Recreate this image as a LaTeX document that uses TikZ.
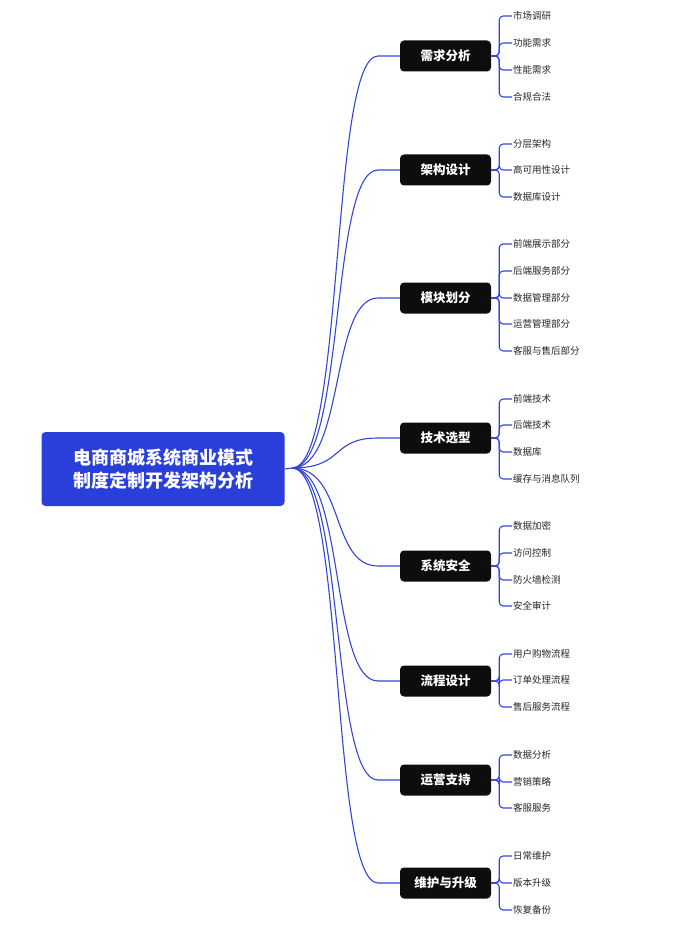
\documentclass[tikz,border=0pt]{standalone}
\usepackage{fontspec}
\setmainfont{Noto Sans CJK SC}
\begin{document}
\begin{tikzpicture}[x=1pt,y=-1pt,
  root/.style={fill=rootblue,rounded corners=4pt,text=white,font=\fontsize{18}{23}\selectfont\bfseries,align=center,minimum width=243pt,minimum height=74pt,inner sep=0pt},
  branch/.style={fill=black!95,rounded corners=4pt,text=white,font=\fontsize{12.5}{14}\selectfont\bfseries,minimum width=91pt,minimum height=31pt,inner sep=0pt},
  leaf/.style={anchor=west,font=\fontsize{9.5}{11}\selectfont,inner sep=1pt,text=black!85},
  conn/.style={draw=linkblue,line width=1.1pt},
  brk/.style={draw=linkblue,line width=1.1pt,rounded corners=4pt}]
\definecolor{rootblue}{HTML}{2A3FD9}
\definecolor{linkblue}{HTML}{3346D8}
\useasboundingbox (0,0) rectangle (687,925);
\node[root] (r) at (163,469) {电商商城系统商业模式\\制度定制开发架构分析};
\coordinate (rs) at (292,468);
\draw[conn] (r.east) -- (rs);
\foreach \name/\txt/\y in {a/需求分析/56,b/架构设计/170,c/模块划分/298,d/技术选型/438,e/系统安全/566,f/流程设计/681,g/运营支持/780,h/维护与升级/883}{
  \node[branch] (\name) at (445.5,\y) {\txt};
  \draw[conn] (rs) .. controls (345,468) and (330,\y) .. (378,\y) -- (\name.west);
}
\newcommand{\leafs}[2]{%
  \foreach \t/\yy [count=\i] in {#2}{
    \node[leaf] (#1l\i) at (512,\yy) {\t};
    \draw[brk] (#1.east) -- ++(8,0) |- (#1l\i.west);
  }}
\leafs{a}{市场调研/16,功能需求/43,性能需求/70,合规合法/97}
\leafs{b}{分层架构/144,高可用性设计/170,数据库设计/197}
\leafs{c}{前端展示部分/244,后端服务部分/271,数据管理部分/298,运营管理部分/324,客服与售后部分/351}
\leafs{d}{前端技术/399,后端技术/425,数据库/452,缓存与消息队列/479}
\leafs{e}{数据加密/526,访问控制/553,防火墙检测/580,安全审计/606}
\leafs{f}{用户购物流程/654,订单处理流程/680,售后服务流程/707}
\leafs{g}{数据分析/755,营销策略/782,客服服务/808}
\leafs{h}{日常维护/856,版本升级/883,恢复备份/910}
\end{tikzpicture}
\end{document}
